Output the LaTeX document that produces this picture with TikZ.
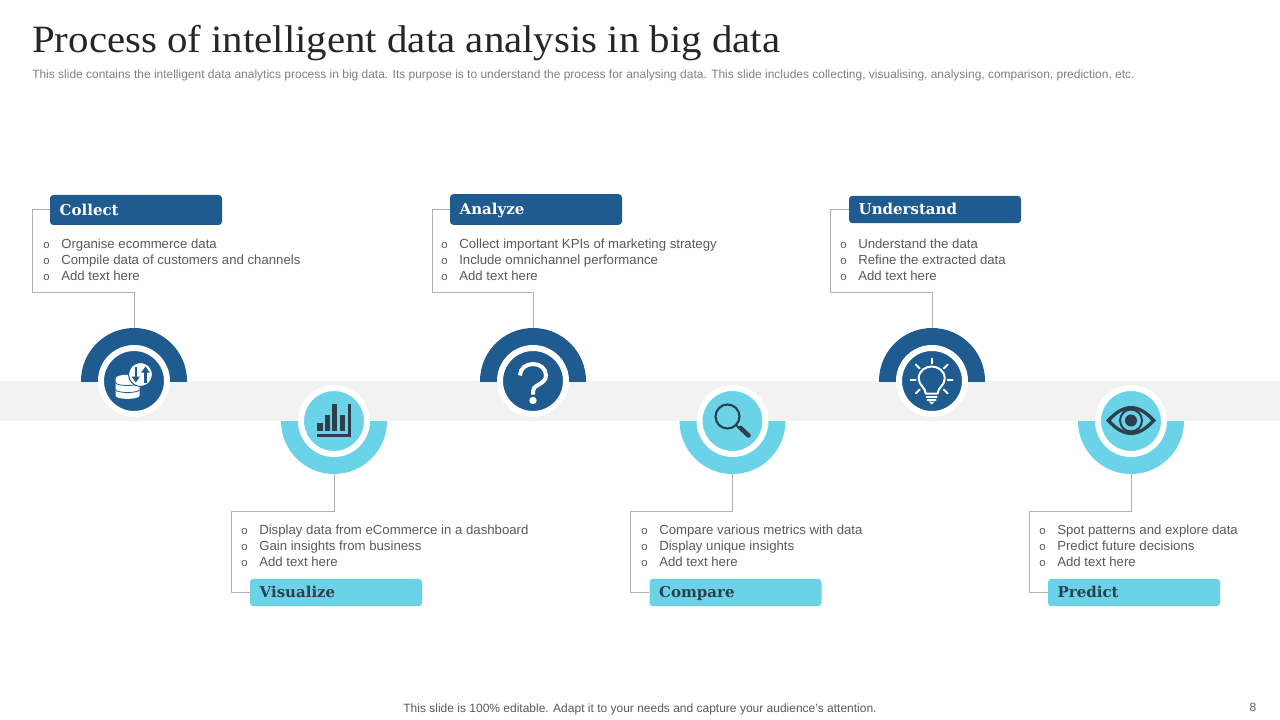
\documentclass[tikz,border=0pt]{standalone}
\usepackage{fontspec}
\setmainfont{Liberation Sans}
\newfontfamily\titlefont[FakeStretch=1.057]{Liberation Serif}
\newfontfamily\headfont{DejaVu Serif}
\definecolor{dkblue}{HTML}{1F5B8E}
\definecolor{ltblue}{HTML}{6AD3E7}
\definecolor{band}{HTML}{F2F2F2}
\definecolor{linegray}{HTML}{B0B0B0}
\definecolor{icondark}{HTML}{2E3F4C}
\definecolor{bodygray}{HTML}{595959}
\newcommand{\bl}[1]{\makebox[13.5pt][l]{\fontsize{8.5pt}{12pt}\selectfont o}#1}
\tikzset{
  x=.75pt,y=-.75pt,
  conn/.style={draw=linegray,line width=.75pt},
  headdark/.style={fill=dkblue,text=white,rounded corners=2.5pt,minimum width=129pt,text width=114.5pt,inner xsep=7.25pt,inner ysep=0pt,align=left,text height=8.2pt,text depth=0pt,font=\headfont\bfseries\fontsize{11.25pt}{12pt}\selectfont},
  headlight/.style={headdark,fill=ltblue,text=icondark},
  bodytext/.style={anchor=north west,inner sep=0pt,align=left,text=bodygray,font=\fontsize{9.9pt}{12pt}\selectfont},
  disc/.style={circle,inner sep=0pt,minimum size=49.5pt,draw=white,line width=4.5pt},
  ringbox/.style={circle,inner sep=0pt,minimum size=79.5pt},
  whiteline/.style={draw=white,line width=1.5pt,line cap=round},
}
\begin{document}
\begin{tikzpicture}
\useasboundingbox (0,0) rectangle (1280,720);
\fill[band] (0,381) rectangle (1280,421);

% outer rings
\node[ringbox] (ring1) at (134,381) {};
\node[ringbox] (ring2) at (334,421) {};
\node[ringbox] (ring3) at (533,381) {};
\node[ringbox] (ring4) at (732.5,421) {};
\node[ringbox] (ring5) at (932,381) {};
\node[ringbox] (ring6) at (1131,421) {};
\foreach \cx in {134,533,932}{
  \begin{scope}\clip (\cx-60,320) rectangle (\cx+60,381);
  \fill[dkblue] (\cx,381) circle[radius=53];\end{scope}}
\foreach \cx in {334,732.5,1131}{
  \begin{scope}\clip (\cx-60,421) rectangle (\cx+60,480);
  \fill[ltblue] (\cx,421) circle[radius=53];\end{scope}}

% discs
\node[disc,fill=dkblue] (disc1) at (ring1) {};
\node[disc,fill=ltblue] (disc2) at (ring2) {};
\node[disc,fill=dkblue] (disc3) at (ring3) {};
\node[disc,fill=ltblue] (disc4) at (ring4) {};
\node[disc,fill=dkblue] (disc5) at (ring5) {};
\node[disc,fill=ltblue] (disc6) at (ring6) {};

% headers
\node[headdark,minimum height=22.5pt] (h1) at (136,210) {Collect};
\node[headdark,minimum height=23pt] (h3) at (536,209.5) {Analyze};
\node[headdark,minimum height=20.5pt] (h5) at (935,209.5) {Understand};
\node[headlight,minimum height=20.5pt] (h2) at (336,592.5) {Visualize};
\node[headlight,minimum height=20.5pt] (h4) at (735.5,592.5) {Compare};
\node[headlight,minimum height=20.5pt] (h6) at (1134,592.5) {Predict};

% connectors
\coordinate (b1) at (32,292);
\coordinate (b3) at (432,292);
\coordinate (b5) at (830.5,292);
\coordinate (b2) at (231,511);
\coordinate (b4) at (630.5,511);
\coordinate (b6) at (1029.5,511);
\draw[conn] (h1.west) -| (b1) -| (ring1.north);
\draw[conn] (h3.west) -| (b3) -| (ring3.north);
\draw[conn] (h5.west) -| (b5) -| (ring5.north);
\draw[conn] (ring2.south) |- (b2) |- (h2.west);
\draw[conn] (ring4.south) |- (b4) |- (h4.west);
\draw[conn] (ring6.south) |- (b6) |- (h6.west);

% body text
\node[bodytext] (t1) at (43,238.5) {\bl{Organise ecommerce data}\\\bl{Compile data of customers and channels}\\\bl{Add text here}};
\node[bodytext] (t3) at (441,238.5) {\bl{Collect important KPIs of marketing strategy}\\\bl{Include omnichannel performance}\\\bl{Add text here}};
\node[bodytext] (t5) at (840,238.5) {\bl{Understand the data}\\\bl{Refine the extracted data}\\\bl{Add text here}};
\node[bodytext] (t2) at (241,524.5) {\bl{Display data from eCommerce in a dashboard}\\\bl{Gain insights from business}\\\bl{Add text here}};
\node[bodytext] (t4) at (641,524.5) {\bl{Compare various metrics with data}\\\bl{Display unique insights}\\\bl{Add text here}};
\node[bodytext] (t6) at (1039,524.5) {\bl{Spot patterns and explore data}\\\bl{Predict future decisions}\\\bl{Add text here}};

% icon 1: database with arrows
\begin{scope}[shift={(134.5,381.5)}]
  \fill[white] (-19,-3) .. controls (-19,-8) and (5,-8) .. (5,-3) -- (5,14) .. controls (5,18.5) and (-19,18.5) .. (-19,14) -- cycle;
  \draw[dkblue,line width=.6pt] (-19,1) .. controls (-19,5) and (5,5) .. (5,1);
  \draw[dkblue,line width=.6pt] (-19,8) .. controls (-19,12) and (5,12) .. (5,8);
  \fill[white] (6,-7) circle[radius=12];
  \draw[dkblue,line width=.75pt] (6,-7) circle[radius=12];
  \draw[dkblue,line width=1.7pt] (1.3,-15) -- (1.3,-3);
  \fill[dkblue] (-3,-5) -- (5.6,-5) -- (1.3,1) -- cycle;
  \draw[dkblue,line width=1.7pt] (11,1) -- (11,-11);
  \fill[dkblue] (6.7,-9) -- (15.3,-9) -- (11,-15) -- cycle;
\end{scope}

% icon 2: bars
\begin{scope}[shift={(333.5,420.5)}]
  \fill[icondark] (-17,2) rectangle (-11,10);
  \fill[icondark] (-9,-6) rectangle (-4,10);
  \fill[icondark] (-2,-17) rectangle (3,10);
  \fill[icondark] (6,-6) rectangle (11,10);
  \fill[icondark] (14.5,-17) rectangle (17,16);
  \fill[icondark] (-17,13.5) rectangle (17,16);
\end{scope}

% icon 3: question mark
\begin{scope}[shift={(533,381.5)}]
  \draw[white,line width=3pt] (-13,-6) .. controls (-13,-13) and (-7,-17.5) .. (0,-17.5) .. controls (7,-17.5) and (13,-13) .. (13,-6) .. controls (13,-1) and (9,1) .. (5,3.5) .. controls (1.5,5.5) and (0,7) .. (0,10) -- (0,13);
  \fill[white] (0,19) circle[radius=3.7];
\end{scope}

% icon 4: magnifier
\begin{scope}[shift={(732.5,420.5)}]
  \draw[icondark,line width=1.6pt] (-5,-4) circle[radius=12];
  \draw[icondark,line width=1.5pt] (4,5) -- (8,9);
  \draw[icondark,line width=3.4pt,line cap=round] (8,7.5) -- (16,15);
\end{scope}

% icon 5: bulb
\begin{scope}[shift={(931.7,381.5)}]
  \draw[white,line width=1.5pt,line join=round] (-6,12) .. controls (-6,6) and (-13,4) .. (-13,-3) .. controls (-13,-11) and (-6,-15) .. (0,-15) .. controls (6,-15) and (13,-11) .. (13,-3) .. controls (13,4) and (6,6) .. (6,12) -- cycle;
  \draw[whiteline] (-5,15.5) -- (5,15.5);
  \draw[whiteline] (-4,18.5) -- (4,18.5);
  \fill[white] (-3,20) -- (3,20) -- (0,23) -- cycle;
  \draw[whiteline] (0,-23) -- (0,-18);
  \draw[whiteline] (-21,-2) -- (-16,-2);
  \draw[whiteline] (16,-2) -- (21,-2);
  \draw[whiteline] (-16,-17) -- (-12,-13);
  \draw[whiteline] (16,-17) -- (12,-13);
  \draw[whiteline] (-16,12) -- (-12,8);
  \draw[whiteline] (16,12) -- (12,8);
\end{scope}

% icon 6: eye
\begin{scope}[shift={(1131,420.5)}]
  \fill[icondark] (-25,0) .. controls (-16,-10) and (-8,-14.5) .. (0,-14.5) .. controls (8,-14.5) and (16,-10) .. (25,0) .. controls (16,10) and (8,14.5) .. (0,14.5) .. controls (-8,14.5) and (-16,10) .. (-25,0) -- cycle;
  \fill[ltblue] (-20,0) .. controls (-13,-7.5) and (-7,-11) .. (0,-11) .. controls (7,-11) and (13,-7.5) .. (20,0) .. controls (13,7.5) and (7,11) .. (0,11) .. controls (-7,11) and (-13,7.5) .. (-20,0) -- cycle;
  \draw[icondark,line width=1.5pt] (0,0) circle[radius=11];
  \fill[icondark] (0,0) circle[radius=6];
\end{scope}

% title and notes
\node[anchor=base west,inner sep=0pt,text=black!85,font=\titlefont\fontsize{29pt}{30pt}\selectfont] (title) at (32,53) {Process of intelligent data analysis in big data};
\node[anchor=base west,inner sep=0pt,text=black!50,font=\fontsize{8.98pt}{10pt}\selectfont] (sub) at (32,79) {This slide contains the intelligent data analytics process in big data. Its purpose is to understand the process for analysing data. This slide includes collecting, visualising, analysing, comparison, prediction, etc.};
\node[anchor=base,inner sep=0pt,text=bodygray,font=\fontsize{9pt}{10pt}\selectfont] (foot) at (640,712.5) {This slide is 100\% editable. Adapt it to your needs and capture your audience's attention.};
\node[anchor=base,inner sep=0pt,text=bodygray,font=\fontsize{9pt}{10pt}\selectfont] (page) at (1253,711) {8};
\end{tikzpicture}
\end{document}
